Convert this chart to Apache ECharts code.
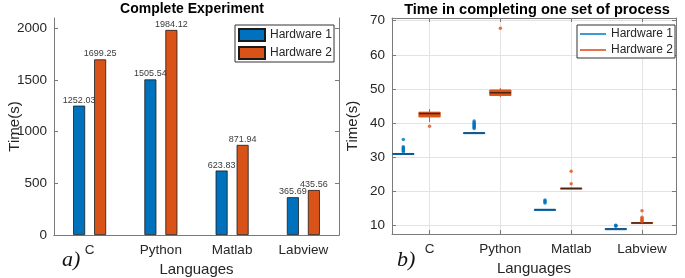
<!DOCTYPE html>
<html>
<head>
<meta charset="utf-8">
<script src="https://cdn.jsdelivr.net/npm/echarts@6/dist/echarts.min.js"></script>
<style>
  html, body { margin: 0; padding: 0; background: #fff; }
  #chart { width: 685px; height: 278px; }
</style>
</head>
<body>
<div id="chart"></div>
<script>
// categories
const languages = ['C', 'Python', 'Matlab', 'Labview']
const seriesNames = ['Hardware 1', 'Hardware 2']

// a) total time per language
const totalHw1 = [1252.03, 1505.54, 623.83, 365.69]
const totalHw2 = [1699.25, 1984.12, 871.94, 435.56]
const totalTicks = [0, 500, 1000, 1500, 2000]

// b) boxplot stats per language: [whiskerLow, q1, median, q3, whiskerHigh]
const boxHw1 = [
  [30.8, 30.9, 31.0, 31.1, 31.2],
  [36.9, 37.0, 37.1, 37.2, 37.3],
  [14.5, 14.6, 14.65, 14.7, 14.8],
  [8.9, 8.95, 9.0, 9.05, 9.1]
]
const boxHw2 = [
  [40.3, 41.8, 42.8, 43.2, 44.1],
  [47.6, 48.1, 48.9, 49.7, 50.3],
  [20.6, 20.7, 20.85, 20.95, 21.1],
  [10.55, 10.65, 10.75, 10.85, 10.95]
]
// outliers per language
const outHw1 = [
  [31.6, 31.9, 32.2, 32.5, 32.8, 33.1, 35.2],
  [38.4, 38.7, 39.0, 39.3, 39.6, 39.9, 40.2, 40.6],
  [16.6, 16.9, 17.2, 17.5],
  [9.8, 10.0, 10.1]
]
const outHw2 = [
  [39.1],
  [67.8],
  [22.2, 25.9],
  [11.1, 11.4, 11.7, 12.0, 12.4, 14.3]
]
const processTicks = [10, 20, 30, 40, 50, 60, 70]

const colors = ['#0072BD', '#D95319']
const hw1Shift = -0.37
const axisColor = '#7a7a7a'
const textColor = '#262626'
const font = 'Liberation Sans, Arial, sans-serif'

const chart = echarts.init(document.getElementById('chart'))

function boxRender(fill, medColor) {
  return function (params, api) {
    const x = api.value(0)
    const lo = api.coord([x, api.value(1)])
    const q1 = api.coord([x, api.value(2)])
    const med = api.coord([x, api.value(3)])
    const q3 = api.coord([x, api.value(4)])
    const hi = api.coord([x, api.value(5)])
    const w = api.size([0.3, 0])[0]
    const cx = lo[0]
    return {
      type: 'group',
      children: [
        { type: 'line', shape: { x1: cx, y1: lo[1], x2: cx, y2: hi[1] }, style: { stroke: fill, lineWidth: 1 } },
        { type: 'rect', shape: { x: cx - w / 2, y: q3[1], width: w, height: Math.max(q1[1] - q3[1], 1) }, style: { fill: fill, stroke: fill, lineWidth: 1 } },
        { type: 'line', shape: { x1: cx - w / 2, y1: med[1], x2: cx + w / 2, y2: med[1] }, style: { stroke: medColor, lineWidth: 1.5 } }
      ]
    }
  }
}

const boxData1 = boxHw1.map((b, i) => [i + 1 + hw1Shift].concat(b))
const boxData2 = boxHw2.map((b, i) => [i + 1].concat(b))
const outData1 = []
outHw1.forEach((list, i) => list.forEach(v => outData1.push([i + 1 + hw1Shift, v])))
const outData2 = []
outHw2.forEach((list, i) => list.forEach(v => outData2.push([i + 1, v])))

const labelStyle = { color: textColor, fontSize: 13.5, fontFamily: font }
const nameStyle = { color: textColor, fontSize: 15, fontFamily: font }
const legendText = { color: textColor, fontSize: 12, fontFamily: font }

function boxAxis(extra) {
  return Object.assign({
    axisLine: { show: true, onZero: false, lineStyle: { color: axisColor } },
    axisTick: { show: true, inside: true, length: 4, lineStyle: { color: axisColor } },
    axisLabel: { show: false },
    splitLine: { show: false }
  }, extra)
}

chart.setOption({
  animation: false,
  backgroundColor: '#fff',
  color: colors,
  title: [
    {
      text: 'Complete Experiment',
      left: 187,
      top: -3,
      textAlign: 'center',
      textStyle: { fontSize: 14, fontWeight: 'bold', color: '#000', fontFamily: font }
    },
    {
      text: 'Time in completing one set of process',
      left: 532,
      top: -3,
      textAlign: 'center',
      textStyle: { fontSize: 14.6, fontWeight: 'bold', color: '#000', fontFamily: font }
    }
  ],
  grid: [
    { left: 54, right: 346, top: 18, bottom: 43, outerBoundsMode: 'none' },
    { left: 392, right: 9, top: 18, bottom: 44, outerBoundsMode: 'none' }
  ],
  legend: [
    {
      data: seriesNames,
      orient: 'vertical',
      left: 235,
      top: 25,
      icon: 'rect',
      itemWidth: 26,
      itemHeight: 12,
      itemGap: 4,
      padding: [3, 2, 2, 3],
      borderColor: '#333',
      borderWidth: 1,
      backgroundColor: '#fff',
      textStyle: legendText
    },
    {
      data: ['HW1 line', 'HW2 line'],
      formatter: name => name === 'HW1 line' ? seriesNames[0] : seriesNames[1],
      orient: 'vertical',
      left: 577,
      top: 25,
      itemWidth: 26,
      itemHeight: 12,
      itemGap: 4,
      padding: [3, 2, 2, 2],
      borderColor: '#333',
      borderWidth: 1,
      backgroundColor: '#fff',
      itemStyle: { opacity: 0 },
      textStyle: legendText
    }
  ],
  xAxis: [
    {
      gridIndex: 0,
      type: 'category',
      data: languages,
      name: 'Languages',
      nameLocation: 'middle',
      nameGap: 26,
      nameTextStyle: nameStyle,
      axisLine: { lineStyle: { color: axisColor } },
      axisTick: { inside: true, length: 4, alignWithLabel: true, lineStyle: { color: axisColor } },
      axisLabel: Object.assign({ margin: 8 }, labelStyle)
    },
    {
      gridIndex: 0,
      type: 'category',
      position: 'top',
      data: languages,
      axisLine: { lineStyle: { color: axisColor } },
      axisTick: { inside: true, length: 4, alignWithLabel: true, lineStyle: { color: axisColor } },
      axisLabel: { show: false }
    },
    {
      gridIndex: 1,
      type: 'value',
      min: 0.47,
      max: 4.48,
      name: 'Languages',
      nameLocation: 'middle',
      nameGap: 26,
      nameTextStyle: nameStyle,
      axisLine: { onZero: false, lineStyle: { color: axisColor } },
      axisTick: { inside: true, length: 4, customValues: [1, 2, 3, 4], lineStyle: { color: axisColor } },
      axisLabel: Object.assign({ margin: 8, customValues: [1, 2, 3, 4], formatter: v => languages[Math.round(v) - 1] }, labelStyle),
      splitLine: { show: true, lineStyle: { color: '#e3e3e3' } }
    },
    boxAxis({
      gridIndex: 1,
      type: 'value',
      position: 'top',
      min: 0.47,
      max: 4.48,
      axisTick: { inside: true, length: 4, customValues: [1, 2, 3, 4], lineStyle: { color: axisColor } }
    })
  ],
  yAxis: [
    {
      gridIndex: 0,
      type: 'value',
      min: 0,
      max: 2100,
      name: 'Time(s)',
      nameLocation: 'middle',
      nameGap: 32,
      nameMoveOverlap: false,
      nameTextStyle: nameStyle,
      axisLine: { show: true, lineStyle: { color: axisColor } },
      axisTick: { show: true, inside: true, length: 4, customValues: totalTicks, lineStyle: { color: axisColor } },
      axisLabel: Object.assign({ margin: 7, customValues: totalTicks, formatter: v => String(v) }, labelStyle),
      splitLine: { show: false }
    },
    boxAxis({
      gridIndex: 0,
      type: 'value',
      position: 'right',
      min: 0,
      max: 2100,
      axisTick: { show: true, inside: true, length: 4, customValues: totalTicks, lineStyle: { color: axisColor } }
    }),
    {
      gridIndex: 1,
      type: 'value',
      min: 7.5,
      max: 70.8,
      name: 'Time(s)',
      nameLocation: 'middle',
      nameGap: 32,
      nameMoveOverlap: false,
      nameTextStyle: nameStyle,
      axisLine: { show: true, onZero: false, lineStyle: { color: axisColor } },
      axisTick: { show: true, inside: true, length: 4, customValues: processTicks, lineStyle: { color: axisColor } },
      axisLabel: Object.assign({ margin: 7, customValues: processTicks }, labelStyle),
      splitLine: { show: true, lineStyle: { color: '#e3e3e3' } }
    },
    boxAxis({
      gridIndex: 1,
      type: 'value',
      position: 'right',
      min: 7.5,
      max: 70.8,
      axisTick: { show: true, inside: true, length: 4, customValues: processTicks, lineStyle: { color: axisColor } }
    })
  ],
  series: [
    {
      name: seriesNames[0],
      type: 'bar',
      xAxisIndex: 0,
      yAxisIndex: 0,
      data: totalHw1,
      barWidth: 12,
      barGap: '75%',
      itemStyle: { color: colors[0], borderColor: '#1a1a1a', borderWidth: 0.8 },
      label: { show: true, position: 'top', distance: 1, fontSize: 9, color: '#3a3a3a', fontFamily: font, formatter: p => p.value.toFixed(2) }
    },
    {
      name: seriesNames[1],
      type: 'bar',
      xAxisIndex: 0,
      yAxisIndex: 0,
      data: totalHw2,
      barWidth: 12,
      barGap: '75%',
      itemStyle: { color: colors[1], borderColor: '#1a1a1a', borderWidth: 0.8 },
      label: { show: true, position: 'top', distance: 1, fontSize: 9, color: '#3a3a3a', fontFamily: font, formatter: p => p.value.toFixed(2) }
    },
    {
      name: 'HW1 box',
      type: 'custom',
      xAxisIndex: 2,
      yAxisIndex: 2,
      data: boxData1,
      renderItem: boxRender(colors[0], '#1d4f7c'),
      encode: { x: 0, y: [1, 2, 3, 4, 5] }
    },
    {
      name: 'HW2 box',
      type: 'custom',
      xAxisIndex: 2,
      yAxisIndex: 2,
      data: boxData2,
      renderItem: boxRender(colors[1], '#4a2410'),
      encode: { x: 0, y: [1, 2, 3, 4, 5] }
    },
    {
      name: 'HW1 out',
      type: 'scatter',
      xAxisIndex: 2,
      yAxisIndex: 2,
      data: outData1,
      symbolSize: 3.5,
      itemStyle: { color: colors[0] }
    },
    {
      name: 'HW2 out',
      type: 'scatter',
      xAxisIndex: 2,
      yAxisIndex: 2,
      data: outData2,
      symbolSize: 3.5,
      itemStyle: { color: colors[1] }
    },
    {
      name: 'HW1 line',
      type: 'line',
      xAxisIndex: 2,
      yAxisIndex: 2,
      data: [],
      symbol: 'none',
      lineStyle: { color: '#3d9ad8', width: 1.2 },
      itemStyle: { color: '#3d9ad8' }
    },
    {
      name: 'HW2 line',
      type: 'line',
      xAxisIndex: 2,
      yAxisIndex: 2,
      data: [],
      symbol: 'none',
      lineStyle: { color: '#e8734a', width: 1.2 },
      itemStyle: { color: '#e8734a' }
    }
  ],
  graphic: [
    { type: 'text', left: 62, top: 249, style: { text: 'a)', font: 'italic 22px "Liberation Serif", serif', fill: '#111' } },
    { type: 'text', left: 397, top: 249, style: { text: 'b)', font: 'italic 22px "Liberation Serif", serif', fill: '#111' } }
  ]
})
</script>
</body>
</html>
